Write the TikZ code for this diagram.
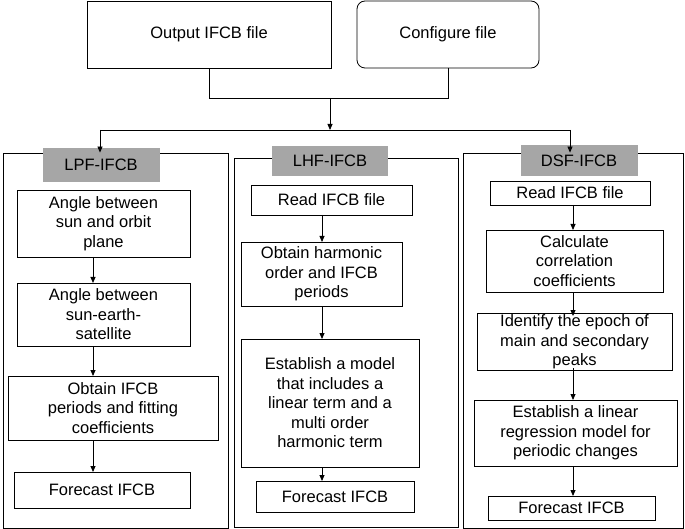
\documentclass[tikz,border=0pt]{standalone}
\usepackage{fontspec}
\setmainfont{Liberation Sans}
\usetikzlibrary{arrows.meta}
\begin{document}
\begin{tikzpicture}[x=1pt,y=-1pt,
  box/.style={draw,thick,inner sep=1pt,align=center,font=\fontsize{16.5}{19.5}\selectfont},
  lab/.style={fill=gray!70,inner sep=0pt,font=\fontsize{16.5}{19.5}\selectfont},
  ar/.style={-{Triangle[length=6pt,width=5pt]},thick}]
\useasboundingbox (0,0) rectangle (685,529);
\newcommand{\bx}[6]{\node[box,#6,minimum width=#3-#1,minimum height=#4-#2] (#5) at ({(#1+#3)/2},{(#2+#4)/2})}
\bx{87}{1}{331}{68}{out}{}{Output IFCB file};
\bx{357}{1}{539}{68}{cfg}{rounded corners=8pt}{Configure file};
\bx{3}{153}{228}{528}{L}{}{};
\bx{234}{158}{458}{527}{M}{}{};
\bx{463}{153}{683}{528}{R}{}{};
\node[lab,minimum width=117,minimum height=34] (la) at (101,165) {LPF-IFCB};
\node[lab,minimum width=116,minimum height=30] (lb) at (330,161) {LHF-IFCB};
\node[lab,minimum width=117,minimum height=31] (lc) at (579,161) {DSF-IFCB};
\bx{17}{190}{190}{257}{a1}{}{Angle between\\sun and orbit\\plane};
\bx{17}{283}{190}{346}{a2}{}{Angle between\\sun-earth-\\satellite};
\bx{8}{376}{218}{440}{a3}{}{Obtain IFCB\\periods and fitting\\coefficients};
\bx{14}{472}{190}{508}{a4}{}{Forecast IFCB};
\bx{251}{185}{412}{215}{b1}{}{Read IFCB file};
\bx{241}{242}{402}{306}{b2}{}{Obtain harmonic\\order and IFCB\\periods};
\bx{241}{339}{419}{467}{b3}{}{Establish a model\\that includes a\\linear term and a\\multi order\\harmonic term};
\bx{256}{481}{414}{512}{b4}{}{Forecast IFCB};
\bx{490}{181}{650}{205}{c1}{}{Read IFCB file};
\bx{486}{230}{663}{292}{c2}{}{Calculate\\correlation\\coefficients};
\bx{477}{316}{672}{368}{c3}{}{Identify the epoch of\\main and secondary\\peaks};
\bx{474}{400}{677}{466}{c4}{}{Establish a linear\\regression model for\\periodic changes};
\bx{488}{496}{655}{520}{c5}{}{Forecast IFCB};
\coordinate (j1) at (209,98); \coordinate (j2) at (448,98); \coordinate (jm) at (330,98);
\coordinate (h) at (330,130); \coordinate (hl) at (100,130); \coordinate (hr) at (570,130);
\draw[thick] (out.south) -- (j1) -- (j2) -- (cfg.south);
\draw[ar] (jm) -- (h);
\draw[thick] (hl) -- (hr);
\draw[ar] (hl) -- (hl|-L.north);
\draw[ar] (hr) -- (hr|-R.north);
\draw[ar] (93,257) -- (93,283);
\draw[ar] (93,346) -- (93,376);
\draw[ar] (93,440) -- (93,472);
\draw[ar] (322,215) -- (322,242);
\draw[ar] (322,306) -- (322,339);
\draw[ar] (322,467) -- (322,481);
\draw[ar] (573,205) -- (573,230);
\draw[ar] (573,292) -- (573,316);
\draw[ar] (573,368) -- (573,400);
\draw[ar] (573,466) -- (573,496);
\end{tikzpicture}
\end{document}
